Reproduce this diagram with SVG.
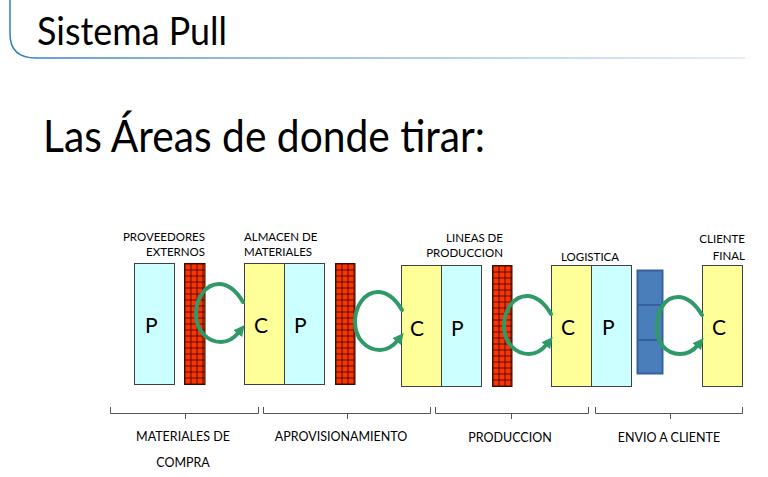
<svg xmlns="http://www.w3.org/2000/svg" width="768" height="477" viewBox="0 0 768 477">
<style>
.t{font-family:Lato,"Open Sans","Liberation Sans",sans-serif;fill:#000}
.lbl{font-size:11.5px}
.blbl{font-size:12.5px}
.big{font-size:21px}
.cbox{fill:#ffff99;stroke:#404040;stroke-width:1}
.pbox{fill:#ccffff;stroke:#404040;stroke-width:1}
.grid{fill:url(#redgrid);stroke:#3a0d00;stroke-width:1}
.loop{fill:none;stroke:#2f9968;stroke-width:4;stroke-linecap:round;marker-end:url(#ah)}
.br{fill:none;stroke:#555;stroke-width:1}
</style>
<defs>
<pattern id="redgrid" patternUnits="userSpaceOnUse" width="6" height="6">
<rect width="6" height="6" fill="#ff3300"/>
<path d="M0,0.5H6M0.5,0V6" stroke="#3a0d00" stroke-width="0.9"/>
</pattern>
<marker id="ah" markerUnits="userSpaceOnUse" markerWidth="12" markerHeight="12" viewBox="0 -6 12 12" refX="2" refY="0" orient="auto">
<path d="M0,-5.5L11,0L0,5.5z" fill="#2f9968"/>
</marker>
<linearGradient id="tl" x1="0" y1="0" x2="1" y2="0">
<stop offset="0" stop-color="#2f7fc1"/>
<stop offset="0.4" stop-color="#7fb0dc"/>
<stop offset="1" stop-color="#dbe8f4"/>
</linearGradient>
</defs>

<g id="title">
<path d="M10,0V34Q10,58 36,58H745" fill="none" stroke="url(#tl)" stroke-width="1.5"/>
<text class="t" x="37" y="45" font-size="38" textLength="190" lengthAdjust="spacingAndGlyphs">Sistema Pull</text>
<text class="t" x="43" y="152" font-size="44" textLength="442" lengthAdjust="spacingAndGlyphs">Las Áreas de donde tirar:</text>
</g>

<g id="proveedores">
<text class="t lbl" x="205" y="241" text-anchor="end">PROVEEDORES</text>
<text class="t lbl" x="205" y="256" text-anchor="end">EXTERNOS</text>
<rect class="pbox" x="134.5" y="263.5" width="40" height="121"/>
<text class="t big" x="145" y="333">P</text>
</g>
<g id="buffer1" transform="translate(184.5,263.5)"><rect class="grid" width="20.5" height="121"/></g>

<g id="almacen">
<text class="t lbl" x="244" y="241">ALMACEN DE</text>
<text class="t lbl" x="244" y="256">MATERIALES</text>
<rect class="cbox" x="244.5" y="263.5" width="40" height="121"/>
<rect class="pbox" x="284.5" y="263.5" width="40" height="121"/>
<text class="t big" x="254" y="333">C</text>
<text class="t big" x="294" y="333">P</text>
</g>
<g id="buffer2" transform="translate(335.5,263.5)"><rect class="grid" width="19.5" height="121"/></g>

<g id="lineas">
<text class="t lbl" x="503" y="242" text-anchor="end">LINEAS DE</text>
<text class="t lbl" x="503" y="257" text-anchor="end">PRODUCCION</text>
<rect class="cbox" x="401.5" y="265.5" width="40" height="121"/>
<rect class="pbox" x="441.5" y="265.5" width="40" height="121"/>
<text class="t big" x="410" y="336">C</text>
<text class="t big" x="451" y="336">P</text>
</g>
<g id="buffer3" transform="translate(492.5,265.5)"><rect class="grid" width="19.5" height="121"/></g>

<g id="logistica">
<text class="t lbl" x="561" y="261">LOGISTICA</text>
<rect class="cbox" x="551.5" y="265.5" width="40" height="121"/>
<rect class="pbox" x="591.5" y="265.5" width="40" height="121"/>
<text class="t big" x="561" y="335">C</text>
<text class="t big" x="602" y="335">P</text>
</g>
<g id="buffer4">
<rect x="637.5" y="270.5" width="25" height="103" fill="#4a7ebb" stroke="#36629c" stroke-width="2"/>
<path d="M637.5,305H662.5M637.5,340H662.5" stroke="#36629c" stroke-width="2"/>
</g>

<g id="cliente">
<text class="t lbl" x="745" y="243" text-anchor="end">CLIENTE</text>
<text class="t lbl" x="745" y="260" text-anchor="end">FINAL</text>
<rect class="cbox" x="702.5" y="265.5" width="40" height="121"/>
<text class="t big" x="712" y="335">C</text>
</g>

<g id="connectors">
<path class="loop" transform="translate(243,302)" d="M0,0C-6,-10 -14,-18 -24,-18C-38,-18 -47,-3 -47,12C-47,28 -36,40 -22,40C-14,40 -8,35 -4,30"/>
<path class="loop" transform="translate(402,310)" d="M0,0C-6,-10 -14,-18 -24,-18C-38,-18 -47,-3 -47,12C-47,28 -36,40 -22,40C-14,40 -8,35 -4,30"/>
<path class="loop" transform="translate(551,314)" d="M0,0C-6,-10 -14,-18 -24,-18C-38,-18 -47,-3 -47,12C-47,28 -36,40 -22,40C-14,40 -8,35 -4,30"/>
<path class="loop" transform="translate(702,315)" d="M0,0C-6,-10 -14,-18 -24,-18C-38,-18 -45,-3 -45,12C-45,28 -36,39 -22,39C-14,39 -8,35 -4,30"/>
</g>

<g id="areas">
<path class="br" d="M110.5,407V413.5H258.5V407M185.5,413.5V419"/>
<path class="br" d="M263.5,407V413.5H430.5V407M347.5,413.5V419"/>
<path class="br" d="M435.5,407V413.5H588.5V407M511.5,413.5V419"/>
<path class="br" d="M595.5,407V413.5H742.5V407M670.5,413.5V419"/>
<text class="t blbl" x="183" y="441" text-anchor="middle">MATERIALES DE</text>
<text class="t blbl" x="183" y="467" text-anchor="middle">COMPRA</text>
<text class="t blbl" x="341" y="441" text-anchor="middle">APROVISIONAMIENTO</text>
<text class="t blbl" x="510" y="442" text-anchor="middle">PRODUCCION</text>
<text class="t blbl" x="669" y="442" text-anchor="middle">ENVIO A CLIENTE</text>
</g>
</svg>
